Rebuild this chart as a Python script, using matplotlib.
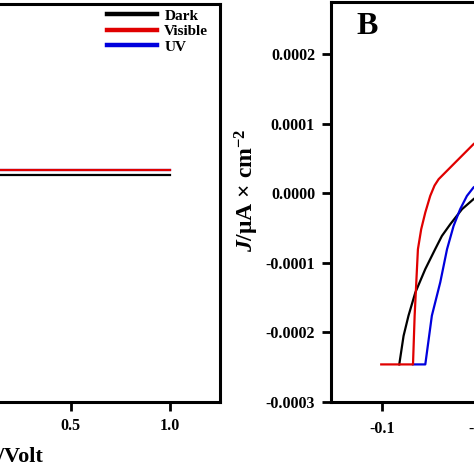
import numpy as np
import matplotlib
matplotlib.use('Agg')
import matplotlib.pyplot as plt
from matplotlib.ticker import FuncFormatter, MultipleLocator

plt.rcParams['font.family'] = ['Liberation Serif', 'DejaVu Serif']
plt.rcParams['font.weight'] = 'bold'
plt.rcParams['mathtext.fontset'] = 'custom'
plt.rcParams['mathtext.rm'] = 'Liberation Serif:bold'
plt.rcParams['mathtext.it'] = 'Liberation Serif:bold:italic'
plt.rcParams['mathtext.bf'] = 'Liberation Serif:bold'

# panel A (only the right part is visible)
a_x = [-0.2, 1.0]
a_dark = [0.000028, 0.000028]
a_visible = [0.000036, 0.000036]
a_uv = [0.000036, 0.000036]

# panel B curves
dark_x = [-0.0917, -0.0896, -0.0872, -0.0839, -0.0790, -0.0742, -0.0709,
          -0.0668, -0.0611, -0.0555, -0.0480, -0.0400]
dark_y = [-0.000246, -0.000205, -0.000176, -0.000143, -0.000109, -0.0000805,
          -0.0000614, -0.0000445, -0.0000230, -0.0000086, 0.0000080, 0.000022]

vis_x = [-0.1005, -0.0850, -0.0842, -0.0826, -0.0810, -0.0790, -0.0766,
         -0.0745, -0.0725, -0.0644, -0.0555, -0.0480, -0.0400]
vis_y = [-0.000246, -0.000246, -0.000176, -0.0000805, -0.0000517, -0.0000277,
         -0.0000039, 0.0000110, 0.0000201, 0.0000441, 0.0000704, 0.000088, 0.000100]

uv_x = [-0.0850, -0.0790, -0.0758, -0.0717, -0.0684, -0.0652, -0.0620,
        -0.0587, -0.0555, -0.0480, -0.0400]
uv_y = [-0.000246, -0.000246, -0.000176, -0.000128, -0.0000805, -0.0000470,
        -0.0000230, -0.0000039, 0.0000082, 0.000024, 0.000036]

W = H = 474.0
fig = plt.figure(figsize=(4.74, 4.74), dpi=100)

def px_axes(left, right, top, bottom):
    return fig.add_axes([left / W, (H - bottom) / H, (right - left) / W, (bottom - top) / H])

axA = px_axes(-68, 219.5, 4.5, 402)
axB = px_axes(331, 331 + 563.75, 1.5, 402)

for ax in (axA, axB):
    for s in ax.spines.values():
        s.set_linewidth(2.2)
    ax.tick_params(direction='out', length=6.5, width=2, labelsize=11.5, pad=5)

# panel A
axA.plot(a_x, a_uv, color='#0000dd', lw=1.6, label='UV', zorder=1)
axA.plot(a_x, a_dark, color='black', lw=1.6, label='Dark', zorder=2)
axA.plot(a_x, a_visible, color='#e00000', lw=1.6, label='Visible', zorder=3)
axA.set_xlim(-0.2, 1.25)
axA.set_ylim(-0.0003, 0.000275)
axA.set_xticks([0.5, 1.0])
axA.xaxis.set_major_formatter(FuncFormatter(lambda v, p: '%.1f' % v))
axA.set_yticks([])
handles, labels = axA.get_legend_handles_labels()
order = [1, 2, 0]
leg = axA.legend([handles[i] for i in order], [labels[i] for i in order],
                 loc='upper left', bbox_to_anchor=(107 / W, 1 - 9 / H),
                 bbox_transform=fig.transFigure, frameon=False, fontsize=11,
                 handlelength=3.3, handletextpad=0.45, labelspacing=0.12,
                 borderpad=0, borderaxespad=0)
for line in leg.get_lines():
    line.set_linewidth(3.2)
fig.text(43 / W, 1 - 457 / H, 'E/Volt', ha='right', va='center', fontsize=16,
         fontweight='bold')

# panel B
axB.plot(dark_x, dark_y, color='black', lw=1.6)
axB.plot(uv_x, uv_y, color='#0000dd', lw=1.6)
axB.plot(vis_x, vis_y, color='#e00000', lw=1.6)
axB.set_xlim(-0.125, 0.15)
axB.set_ylim(-0.0003, 0.0002754)
axB.xaxis.set_major_locator(MultipleLocator(0.05))
axB.xaxis.set_major_formatter(FuncFormatter(lambda v, p: '%g' % round(v, 3)))
axB.set_yticks([-0.0003, -0.0002, -0.0001, 0.0, 0.0001, 0.0002])
axB.yaxis.set_major_formatter(FuncFormatter(lambda v, p: '%.4f' % v))
axB.tick_params(axis='x', pad=7)
axB.text(0.045, 0.975, 'B', transform=axB.transAxes, ha='left', va='top',
         fontsize=23, fontweight='bold')
fig.text(247 / W, 1 - 190 / H, r'$\mathit{J}$/μA × cm$^{\mathregular{-2}}$',
         rotation=90, ha='center', va='center', fontsize=17, fontweight='bold')

fig.savefig('out.png', dpi=100)
